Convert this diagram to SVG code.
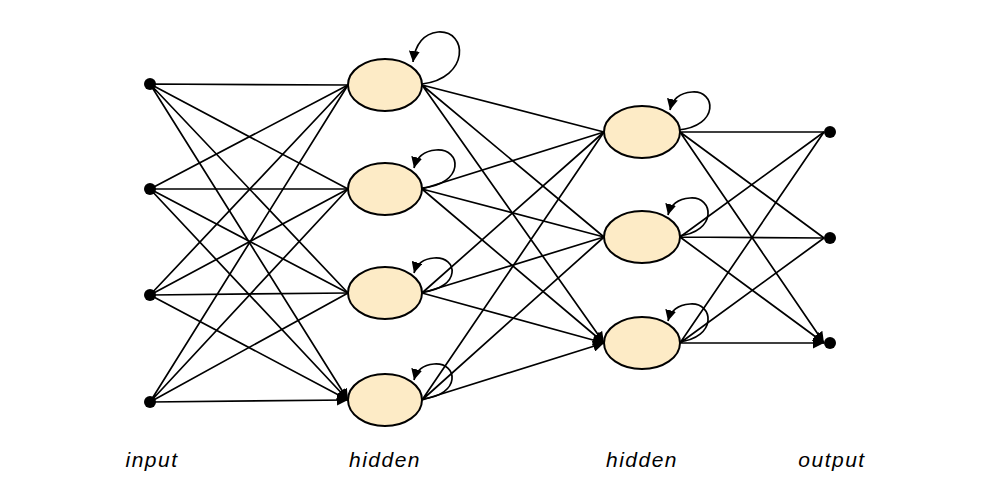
<svg xmlns="http://www.w3.org/2000/svg" width="1000" height="500" viewBox="0 0 1000 500">
<defs>
<marker id="a" viewBox="0 0 10 10" refX="10" refY="5" markerWidth="11" markerHeight="11" markerUnits="userSpaceOnUse" orient="auto"><path d="M0,0 L10,5 L0,10 z" fill="#000"/></marker>
<style>
.n{fill:#fdebc6;stroke:#000;stroke-width:2}
.d{fill:#000}
.e{stroke:#000;stroke-width:1.7;fill:none;marker-end:url(#a)}
.t{font-family:"Liberation Sans",Arial,sans-serif;font-style:italic;font-size:21px;letter-spacing:1.5px;fill:#000;text-anchor:middle}
</style>
</defs>
<rect width="1000" height="500" fill="#fff"/>
<g id="connectors">
<path class="e" d="M150,84L348,85M150,84L348,189M150,84L348,293M150,84L348,400"/>
<path class="e" d="M150,189L348,85M150,189L348,189M150,189L348,293M150,189L348,400"/>
<path class="e" d="M150,295L348,85M150,295L348,189M150,295L348,293M150,295L348,400"/>
<path class="e" d="M150,402L348,85M150,402L348,189M150,402L348,293M150,402L348,400"/>
<path class="e" d="M422,85L604,132M422,85L604,237M422,85L604,343"/>
<path class="e" d="M422,189L604,132M422,189L604,237M422,189L604,343"/>
<path class="e" d="M422,293L604,132M422,293L604,237M422,293L604,343"/>
<path class="e" d="M422,400L604,132M422,400L604,237M422,400L604,343"/>
<path class="e" d="M680,132L824,132M680,132L824,238M680,132L824,343"/>
<path class="e" d="M680,237L824,132M680,237L824,238M680,237L824,343"/>
<path class="e" d="M680,343L824,132M680,343L824,238M680,343L824,343"/>
<path class="e" d="M422,84C470,78 468,30 438,32C422,34 415,46 413,62"/>
<path class="e" d="M422,188C465,184 462,148 436,150C422,151 416,160 414,168"/>
<path class="e" d="M422,292C462,288 458,256 434,258C421,259 416,266 414,273"/>
<path class="e" d="M422,399C462,395 458,362 434,364C421,365 416,372 414,380"/>
<path class="e" d="M678,130C720,126 716,90 692,92C678,93 672,101 670,110"/>
<path class="e" d="M678,236C718,232 714,196 690,198C676,199 670,207 668,215"/>
<path class="e" d="M678,342C718,338 714,302 690,304C676,305 670,313 668,321"/>
</g>
<g id="in1"><circle class="d" cx="150" cy="84" r="6"/></g>
<g id="in2"><circle class="d" cx="150" cy="189" r="6"/></g>
<g id="in3"><circle class="d" cx="150" cy="295" r="6"/></g>
<g id="in4"><circle class="d" cx="150" cy="402" r="6"/></g>
<g id="h1a"><ellipse class="n" cx="385" cy="85" rx="37" ry="26"/></g>
<g id="h1b"><ellipse class="n" cx="385" cy="189" rx="37" ry="26"/></g>
<g id="h1c"><ellipse class="n" cx="385" cy="293" rx="37" ry="26"/></g>
<g id="h1d"><ellipse class="n" cx="385" cy="400" rx="37" ry="26"/></g>
<g id="h2a"><ellipse class="n" cx="642" cy="132" rx="38" ry="26"/></g>
<g id="h2b"><ellipse class="n" cx="642" cy="237" rx="38" ry="26"/></g>
<g id="h2c"><ellipse class="n" cx="642" cy="343" rx="38" ry="26"/></g>
<g id="o1"><circle class="d" cx="830" cy="132" r="6"/></g>
<g id="o2"><circle class="d" cx="830" cy="238" r="6"/></g>
<g id="o3"><circle class="d" cx="830" cy="343" r="6"/></g>
<g id="labels">
<text class="t" x="152" y="467">input</text>
<text class="t" x="385" y="467">hidden</text>
<text class="t" x="642" y="467">hidden</text>
<text class="t" x="832" y="467">output</text>
</g>
</svg>
